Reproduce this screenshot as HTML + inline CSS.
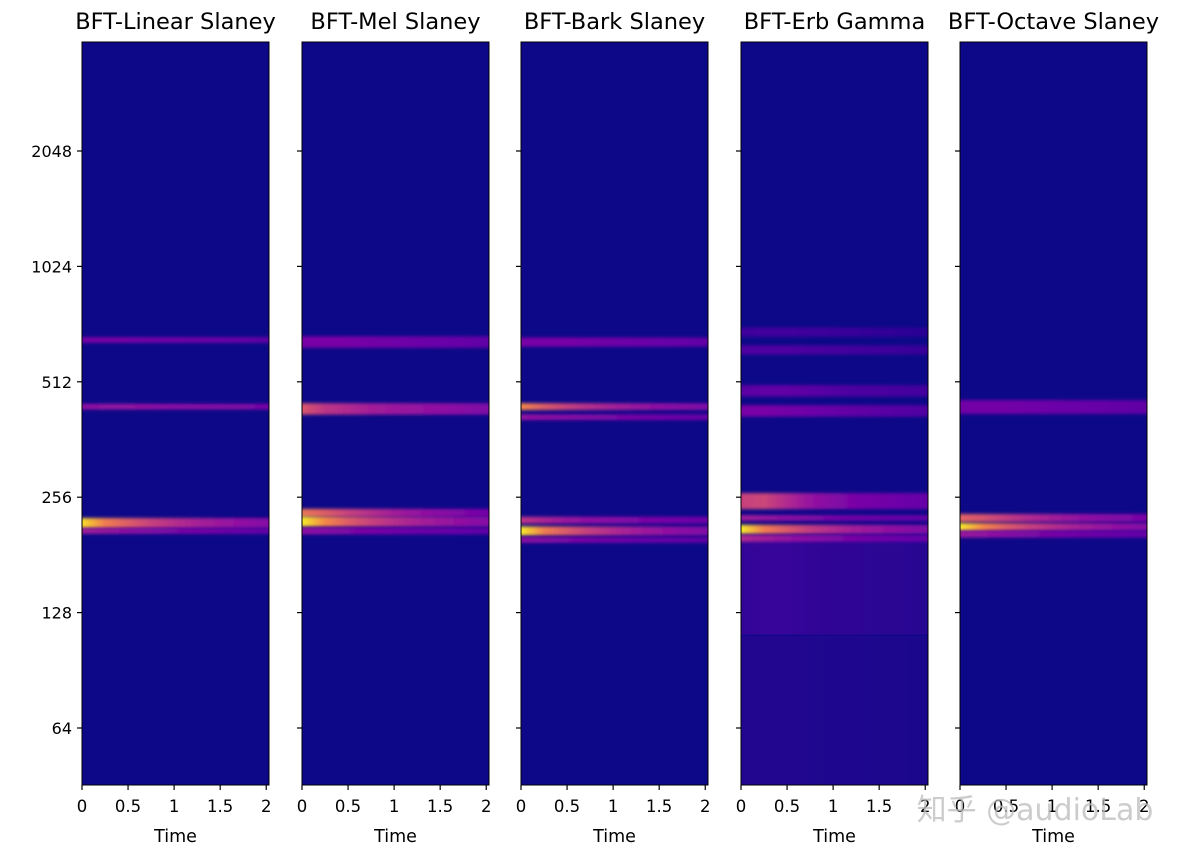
<!DOCTYPE html>
<html><head><meta charset="utf-8"><style>
html,body{margin:0;padding:0;background:#fff;width:1202px;height:860px;overflow:hidden}
svg text{font-family:"DejaVu Sans","Liberation Sans","Noto Sans CJK SC",sans-serif}
</style></head><body>
<svg id="chart" width="1202" height="860" xmlns="http://www.w3.org/2000/svg"></svg>
<script>
// ---- data ----
const panelTitles = ["BFT-Linear Slaney","BFT-Mel Slaney","BFT-Bark Slaney","BFT-Erb Gamma","BFT-Octave Slaney"];
const yTicks = [64,128,256,512,1024,2048];
const xTicks = [0,0.5,1,1.5,2];
const timeSamples = [0,0.25,0.5,0.75,1,1.25,1.5,1.75,2.03];
// band centre freqs (Hz), bandwidth (octaves), intensity over time (0..1)
const linearFreqs = [658,441,219,209];
const linearWidths = [0.05,0.05,0.09,0.05];
const linearVals = [[0.3,0.3,0.3,0.28,0.28,0.27,0.26,0.25,0.22],[0.38,0.4,0.4,0.38,0.36,0.35,0.34,0.33,0.3],[0.98,0.85,0.72,0.6,0.52,0.46,0.42,0.38,0.34],[0.45,0.42,0.38,0.35,0.32,0.3,0.28,0.26,0.24]];
const melFreqs = [650,435,233,221,209];
const melWidths = [0.1,0.1,0.07,0.09,0.06];
const melVals = [[0.3,0.3,0.3,0.28,0.27,0.26,0.25,0.24,0.22],[0.7,0.55,0.5,0.45,0.42,0.4,0.38,0.35,0.32],[0.82,0.72,0.6,0.52,0.45,0.4,0.36,0.32,0.28],[1,0.88,0.72,0.6,0.52,0.46,0.42,0.38,0.34],[0.38,0.35,0.32,0.3,0.28,0.26,0.25,0.24,0.22]];
const barkFreqs = [650,441,414,223,209,198];
const barkWidths = [0.08,0.06,0.05,0.06,0.08,0.05];
const barkVals = [[0.3,0.3,0.3,0.28,0.27,0.26,0.25,0.24,0.22],[0.88,0.72,0.6,0.52,0.46,0.42,0.38,0.35,0.32],[0.4,0.38,0.36,0.34,0.32,0.3,0.28,0.27,0.25],[0.55,0.48,0.42,0.38,0.35,0.32,0.3,0.28,0.26],[1,0.85,0.7,0.58,0.5,0.44,0.4,0.36,0.32],[0.38,0.35,0.32,0.3,0.28,0.26,0.25,0.24,0.22]];
const erbFreqs = [70,150,690,620,485,430,250,226,211,200];
const erbWidths = [1.34,0.84,0.08,0.08,0.1,0.1,0.14,0.05,0.08,0.06];
const erbVals = [[0.05,0.05,0.05,0.045,0.04,0.04,0.035,0.035,0.03],[0.09,0.1,0.1,0.09,0.08,0.08,0.07,0.07,0.06],[0.12,0.13,0.13,0.12,0.11,0.1,0.09,0.08,0.07],[0.17,0.17,0.17,0.15,0.14,0.13,0.12,0.11,0.1],[0.2,0.22,0.22,0.2,0.18,0.16,0.15,0.14,0.13],[0.3,0.3,0.28,0.26,0.24,0.22,0.2,0.19,0.17],[0.6,0.62,0.5,0.4,0.34,0.3,0.28,0.26,0.24],[0.45,0.42,0.38,0.34,0.3,0.28,0.26,0.25,0.24],[1,0.85,0.7,0.58,0.5,0.44,0.4,0.36,0.32],[0.5,0.45,0.4,0.36,0.33,0.3,0.28,0.26,0.25]];
const octaveFreqs = [440,226,214,205];
const octaveWidths = [0.12,0.07,0.07,0.06];
const octaveVals = [[0.28,0.28,0.28,0.27,0.26,0.25,0.24,0.23,0.22],[0.75,0.68,0.58,0.5,0.45,0.4,0.36,0.33,0.3],[1,0.88,0.72,0.6,0.52,0.46,0.42,0.38,0.34],[0.42,0.4,0.36,0.33,0.3,0.28,0.26,0.25,0.24]];
const panelFreqs=[linearFreqs,melFreqs,barkFreqs,erbFreqs,octaveFreqs];
const panelWidths=[linearWidths,melWidths,barkWidths,erbWidths,octaveWidths];
const panelVals=[linearVals,melVals,barkVals,erbVals,octaveVals];
// ---- layout ----
const NS="http://www.w3.org/2000/svg";
const svg=document.getElementById('chart');
const lefts=[82,302,521,741,960], PW=187, TOP=42, BOT=785;
const tMax=2.03;
function yScale(f){return 151-(Math.log2(f)-11)*115.4;}
function xScale(p,t){return lefts[p]+t/tMax*PW;}
const stops=[[0,[13,8,135]],[0.125,[65,4,157]],[0.25,[106,0,168]],[0.375,[143,13,164]],[0.5,[177,42,144]],[0.625,[204,71,120]],[0.75,[225,100,98]],[0.875,[242,132,75]],[0.94,[252,190,40]],[1,[245,235,40]]];
function plasma(v){v=Math.max(0,Math.min(1,v));for(let i=1;i<stops.length;i++){if(v<=stops[i][0]){const a=stops[i-1],b=stops[i],k=(v-a[0])/(b[0]-a[0]);return 'rgb('+a[1].map((c,j)=>Math.round(c+(b[1][j]-c)*k)).join(',')+')';}}return 'rgb(245,235,40)';}
function mk(tag,attrs,parent){const e=document.createElementNS(NS,tag);for(const k in attrs)e.setAttribute(k,attrs[k]);(parent||svg).appendChild(e);return e;}
const defs=mk('defs',{});
const flt=mk('filter',{id:'vblur',x:'-0.1',y:'-1',width:'1.2',height:'3'},defs);
mk('feGaussianBlur',{stdDeviation:'0 1.6'},flt);
panelTitles.forEach((title,p)=>{
  const g=mk('g',{});
  
  
  const bg=mk('rect',{x:lefts[p],y:TOP,width:PW,height:BOT-TOP,fill:'#0d0887'},g);
  
  
  const clipId='clip'+p;
  const cp=mk('clipPath',{id:clipId},defs);mk('rect',{x:lefts[p],y:TOP,width:PW,height:BOT-TOP},cp);
  const bands=mk('g',{'clip-path':'url(#'+clipId+')'},g);
  panelFreqs[p].forEach((f,i)=>{
    const gid='gr'+p+'_'+i;
    const lg=mk('linearGradient',{id:gid,x1:0,x2:1,y1:0,y2:0},defs);
    panelVals[p][i].forEach((v,j)=>{mk('stop',{offset:(timeSamples[j]/tMax),'stop-color':plasma(v)},lg);});
    const w=panelWidths[p][i];
    const y1=yScale(f*Math.pow(2,w/2)), y2=yScale(f/Math.pow(2,w/2));
    const attrs={x:xScale(p,0),y:y1,width:xScale(p,tMax)-xScale(p,0),height:y2-y1,fill:'url(#'+gid+')'};
    if(w<0.3) attrs.filter='url(#vblur)';
    const r=mk('rect',attrs,bands);
    
    
  });
  mk('rect',{x:lefts[p],y:TOP,width:PW,height:BOT-TOP,fill:'none',stroke:'#000','stroke-width':1},g);
  const tt=mk('text',{x:lefts[p]+PW/2,y:29,'text-anchor':'middle','font-size':22.5,fill:'#000'},g);
  tt.textContent=title;
  
  
  yTicks.forEach(v=>{
    const y=yScale(v);
    mk('line',{x1:lefts[p]-5,x2:lefts[p],y1:y,y2:y,stroke:'#000','stroke-width':1.2},g);
    if(p===0){const l=mk('text',{x:lefts[p]-10,y:y+6,'text-anchor':'end','font-size':16,fill:'#000'},g);l.textContent=v;
      
      }
  });
  xTicks.forEach(v=>{
    const x=xScale(p,v);
    mk('line',{x1:x,x2:x,y1:BOT,y2:BOT+5,stroke:'#000','stroke-width':1.2},g);
    const l=mk('text',{x:x,y:812,'text-anchor':'middle','font-size':16.5,fill:'#000'},g);l.textContent=v;
    
    
  });
  const xl=mk('text',{x:lefts[p]+PW/2,y:842,'text-anchor':'middle','font-size':17.5,fill:'#000'},g);
  xl.textContent='Time';
  
  
});
const wm=mk('text',{x:1035,y:820,'text-anchor':'middle','font-size':30,fill:'#bbb','fill-opacity':0.75});
wm.textContent='知乎 @audioLab';


</script>
</body></html>
